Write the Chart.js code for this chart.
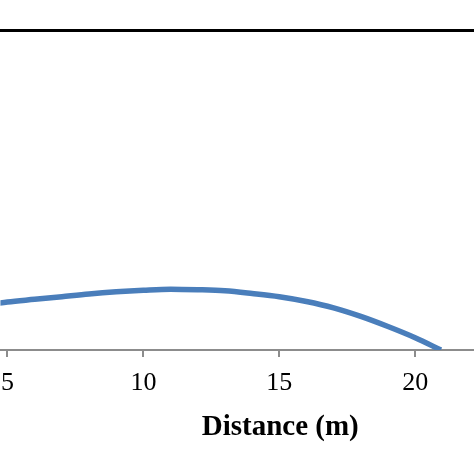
<!DOCTYPE html>
<html>
<head>
<meta charset="utf-8">
<script src="https://cdn.jsdelivr.net/npm/chart.js@4"></script>
<style>
  html, body { margin: 0; padding: 0; background: #fff; overflow: hidden; }
  #wrap { position: absolute; left: -10px; top: 0; width: 570px; height: 474px; }
</style>
</head>
<body>
<div id="wrap"><canvas id="myChart"></canvas></div>
<script>
// Datos (distancia en m, altura en m)
const distance = [4, 5, 6, 7, 8, 9, 10, 11, 12, 13, 14, 15, 16, 17, 18, 19, 20, 20.95];
const height = [0.83, 0.90, 0.95, 1.00, 1.05, 1.09, 1.12, 1.14, 1.13, 1.11, 1.06, 1.00, 0.91, 0.79, 0.63, 0.44, 0.23, 0.0];
const xTicks = [5, 10, 15, 20];
const yTop = 6;

const points = distance.map((d, i) => ({ x: d, y: height[i] }));

const config = {
    type: 'line',
    data: {
        datasets: [{
            data: points,
            borderColor: 'rgb(74, 126, 187)',
            borderWidth: 5.5,
            pointRadius: 0,
            cubicInterpolationMode: 'monotone',
            fill: false
        }]
    },
    options: {
        responsive: true,
        maintainAspectRatio: false,
        animation: false,
        layout: { padding: { top: 30, left: 0, right: 0, bottom: 29 } },
        plugins: { legend: { display: false }, tooltip: { enabled: false } },
        scales: {
            x: {
                type: 'linear',
                min: 4.74,
                max: 25.33,
                afterBuildTicks: (scale) => {
                    scale.ticks = xTicks.map(v => ({ value: v }));
                },
                ticks: {
                    color: '#000',
                    padding: 11,
                    font: { family: 'Liberation Serif', size: 26 }
                },
                grid: {
                    drawOnChartArea: false,
                    drawTicks: true,
                    tickLength: 7,
                    color: '#8c8c8c',
                    lineWidth: 2
                },
                border: { display: true, color: '#8c8c8c', width: 2 },
                title: {
                    display: true,
                    text: 'Distance (m)',
                    color: '#000',
                    padding: { top: 0, bottom: 0 },
                    font: { family: 'Liberation Serif', size: 29, weight: 'bold' }
                }
            },
            y: {
                min: 0,
                max: yTop,
                ticks: { display: false },
                border: { display: false },
                grid: {
                    drawTicks: false,
                    lineWidth: 3,
                    color: (ctx) => (ctx.tick && ctx.tick.value === yTop ? '#000' : 'rgba(0,0,0,0)')
                }
            }
        }
    }
};

new Chart(document.getElementById('myChart'), config);
</script>
</body>
</html>
